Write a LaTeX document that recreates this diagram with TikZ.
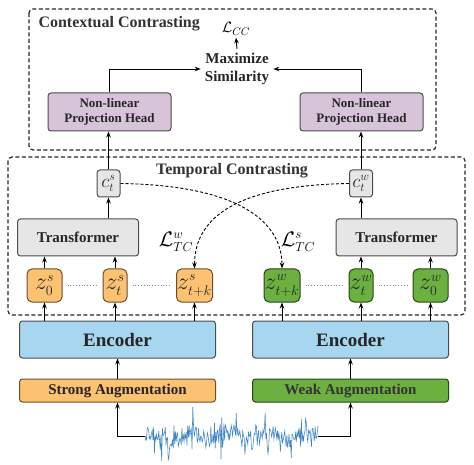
\RequirePackage{fix-cm}
\documentclass[tikz,border=0pt]{standalone}
\usepackage{amsmath}
\usepackage{fontspec}
\setmainfont{Liberation Serif}
\usetikzlibrary{positioning,arrows.meta}
\DeclareMathSizes{24}{24}{14}{10}
\DeclareMathSizes{19}{19}{12}{9}
\DeclareMathSizes{21}{21}{13}{10}
\DeclareMathSizes{15}{15}{11}{8}
\definecolor{projfill}{HTML}{D8C4D8}
\definecolor{grayfill}{HTML}{E6E6E6}
\definecolor{orangefill}{HTML}{FDC172}
\definecolor{orangedraw}{HTML}{6B4E2A}
\definecolor{greenfill}{HTML}{6CB040}
\definecolor{greendraw}{HTML}{24461A}
\definecolor{encfill}{HTML}{A6D6F0}
\definecolor{sigblue}{HTML}{3F85C4}
\tikzset{
  blk/.style={draw=black!70, line width=1pt, rounded corners=3pt, inner sep=0pt, align=center, text=black!85},
  proj/.style={blk, fill=projfill, minimum width=123pt, minimum height=38pt, font=\fontsize{13}{14.5}\selectfont\bfseries},
  cbox/.style={blk, fill=grayfill, minimum width=23pt, minimum height=27pt, font=\fontsize{19}{21}\selectfont},
  trans/.style={blk, fill=grayfill, minimum width=121pt, minimum height=37pt, font=\fontsize{15}{17}\selectfont\bfseries},
  zs/.style={blk, fill=orangefill, draw=orangedraw, rounded corners=5pt, minimum height=33pt, font=\fontsize{24}{26}\selectfont},
  zw/.style={blk, fill=greenfill, draw=greendraw, rounded corners=5pt, minimum height=33pt, font=\fontsize{24}{26}\selectfont},
  enc/.style={blk, fill=encfill, minimum width=196pt, minimum height=37pt, font=\fontsize{19}{21}\selectfont\bfseries},
  aug/.style={blk, minimum width=196pt, minimum height=23pt, font=\fontsize{15}{17}\selectfont\bfseries},
  frame/.style={draw=black!85, line width=1.2pt, dash pattern=on 4pt off 2.5pt, rounded corners=4pt},
  title/.style={text=black!80, font=\fontsize{16}{18}\selectfont\bfseries},
  arr/.style={-{Stealth[length=6pt,width=4.5pt]}, line width=0.9pt},
  loss/.style={-{Stealth[length=6pt,width=4.5pt]}, line width=0.9pt, dash pattern=on 3pt off 2pt},
  dots/.style={draw=black!45, line width=0.8pt, dotted, shorten <=5pt, shorten >=5pt},
  signal/.style={draw=sigblue, line width=0.55pt}
}
\begin{document}
\begin{tikzpicture}[x=1pt, y=-1pt]
  \useasboundingbox (0,0) rectangle (474,465);

  % frames
  \draw[frame] (29,9) rectangle (436,150);
  \draw[frame] (8,157) rectangle (465,315);
  \node (ctxT) [title, anchor=west] at (35,24) {Contextual Contrasting};
  \node (tmpT) [title] at (232,171) {Temporal Contrasting};

  % contextual part
  \node (maxsim) [align=center, inner sep=4pt, text=black!85, font=\fontsize{15}{18}\selectfont\bfseries] at (237,69) {Maximize\\Similarity};
  \node (Lcc) [font=\fontsize{15}{17}\selectfont, inner sep=2pt] at (236,29) {$\mathcal{L}_{CC}$};
  \node (projL) [proj] at (109.5,112) {Non-linear\\Projection Head};
  \node (projR) [proj] at (361.5,112) {Non-linear\\Projection Head};

  % temporal part
  \node (cs) [cbox] at (108.5,183.5) {$c_t^s$};
  \node (cw) [cbox] at (361,183.5) {$c_t^w$};
  \node (transL) [trans] at (78,237.5) {Transformer};
  \node (transR) [trans] at (396.5,237.5) {Transformer};

  \node (z0s)  [zs, minimum width=35pt] at (44.5,285.5) {$z_0^s$};
  \node (zts)  [zs, minimum width=24pt] at (115,285.5) {$z_t^s$};
  \node (ztks) [zs, minimum width=36pt] at (194.5,285.5) {$z_{t+k}^s$};
  \node (ztkw) [zw, minimum width=36pt] at (282,285.5) {$z_{t+k}^w$};
  \node (ztw)  [zw, minimum width=24pt] at (361,285.5) {$z_t^w$};
  \node (z0w)  [zw, minimum width=35pt] at (430.5,285.5) {$z_0^w$};

  \node (Lw) [font=\fontsize{21}{23}\selectfont] at (176,242) {$\mathcal{L}_{TC}^w$};
  \node (Ls) [font=\fontsize{21}{23}\selectfont] at (298,242) {$\mathcal{L}_{TC}^s$};

  % encoders and augmentations
  \node (encL) [enc] at (117.5,339.5) {Encoder};
  \node (encR) [enc] at (350.5,339.5) {Encoder};
  \node (strong) [aug, fill=orangefill, draw=orangedraw] at (117.5,390.5) {Strong Augmentation};
  \node (weak) [aug, fill=greenfill, draw=greendraw, text=black!80] at (350.5,390.5) {Weak Augmentation};

  % raw signal
  \coordinate (sigL) at (145,436);
  \coordinate (sigR) at (318,436);
  \pgfmathsetseed{17}
  \draw[signal] plot[domain=145:318, samples=240, variable=\t] (\t, {436 + 8*rand + 30*rand*rand*rand + 4*sin(9*\t)});

  % connectors
  \draw[arr] (sigL) -| (strong.south);
  \draw[arr] (sigR) -| (weak.south);
  \draw[arr] (strong) -- (encL);
  \draw[arr] (weak) -- (encR);

  \foreach \z/\e in {z0s/encL, zts/encL, ztks/encL, ztkw/encR, ztw/encR, z0w/encR}
    \draw[arr] (\z.south |- \e.north) -- (\z.south);
  \foreach \z/\t in {z0s/transL, zts/transL, ztw/transR, z0w/transR}
    \draw[arr] (\z.north) -- (\z.north |- \t.south);

  \draw[dots] (z0s) -- (zts);
  \draw[dots] (zts) -- (ztks);
  \draw[dots] (ztkw) -- (ztw);
  \draw[dots] (ztw) -- (z0w);

  \draw[arr] (cs.south |- transL.north) -- (cs.south);
  \draw[arr] (cw.south |- transR.north) -- (cw.south);
  \draw[arr] (cs.north) -- (cs.north |- projL.south);
  \draw[arr] (cw.north) -- (cw.north |- projR.south);

  \draw[loss] (cs.east) .. controls +(130,2) and +(0,-40) .. (ztkw.north);
  \draw[loss] (cw.west) .. controls +(-130,2) and +(0,-40) .. (ztks.north);

  \draw[arr] (projL.north) |- (maxsim.west);
  \draw[arr] (projR.north) |- (maxsim.east);
  \draw[arr] (maxsim.north) -- (Lcc.south);
\end{tikzpicture}
\end{document}
